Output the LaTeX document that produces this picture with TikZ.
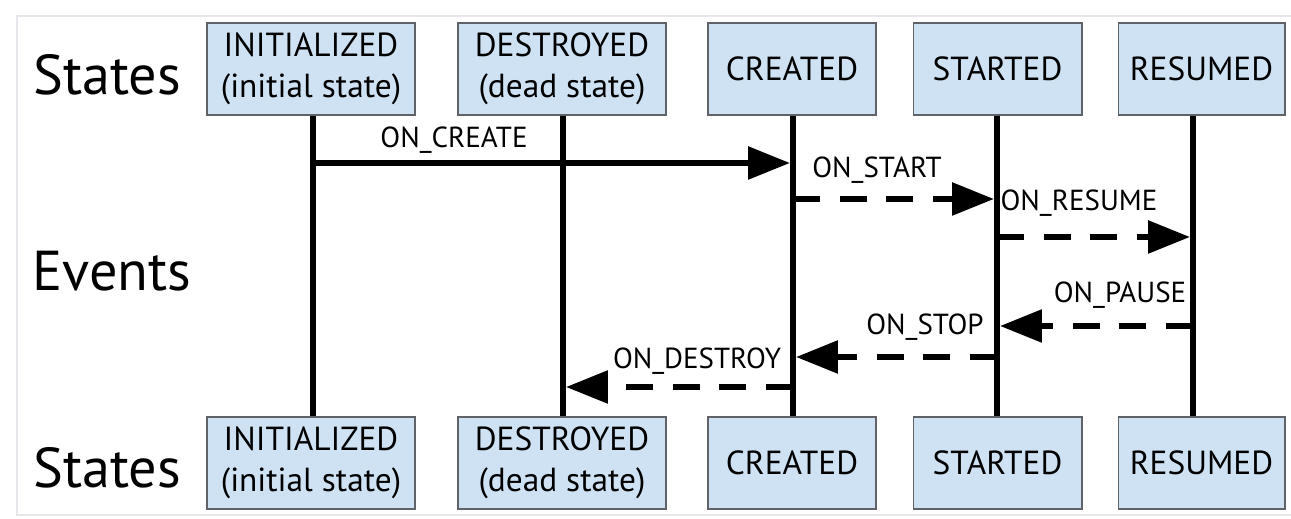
\documentclass[tikz,border=0pt]{standalone}
\usepackage{fontspec}
\setmainfont{PT Sans}
\usepackage{xcolor}
\usetikzlibrary{arrows.meta}

\definecolor{boxblue}{HTML}{CFE2F3}
\definecolor{boxline}{HTML}{5F6368}
\definecolor{framegray}{HTML}{E6E6EB}

\begin{document}
\begin{tikzpicture}[x=0.02cm,y=-0.02cm,
  state/.style={draw=boxline,line width=0.6pt,fill=boxblue,minimum height=1.84cm,
    align=center,inner sep=0pt,font=\fontsize{19}{23.5}\selectfont},
  life/.style={line width=3.4pt},
  event/.style={line width=3.4pt,shorten >=1.7pt,
    -{Triangle[length=23.8pt,width=18.1pt]}},
  lazy/.style={event,dash pattern=on 15.3pt off 11.3pt},
  tag/.style={inner sep=0pt,font=\fontsize{16.5}{18}\selectfont},
  side/.style={inner sep=0pt,font=\fontsize{32}{35}\selectfont}]
\useasboundingbox (0,0) rectangle (1291,519);
\draw[framegray,line width=1.2pt] (17,16) rectangle (1310,515);

% row labels
\node[side] (statesT) at (107,75) {States};
\node[side] (events) at (112,271) {Events};
\node[side] (statesB) at (107,468) {States};

% state boxes, top and bottom rows
\foreach \row/\y in {T/69,B/463}{
  \node[state,minimum width=4.16cm] (ini\row) at (311,\y) {INITIALIZED\\(initial state)};
  \node[state,minimum width=4.16cm] (des\row) at (562,\y) {DESTROYED\\(dead state)};
  \node[state,minimum width=3.36cm] (cre\row) at (792,\y) {CREATED};
  \node[state,minimum width=3.38cm] (sta\row) at (997.5,\y) {STARTED};
  \node[state,minimum width=3.34cm] (res\row) at (1201.5,\y) {RESUMED};
}

% lifelines
\coordinate (lI) at (313,0);
\coordinate (lD) at (563,0);
\coordinate (lC) at (793,0);
\coordinate (lS) at (997,0);
\coordinate (lR) at (1193,0);
\draw[life] (lI |- iniT.south) -- (lI |- iniB.north);
\draw[life] (lD |- desT.south) -- (lD |- desB.north);
\draw[life] (lC |- creT.south) -- (lC |- creB.north);
\draw[life] (lS |- staT.south) -- (lS |- staB.north);
\draw[life] (lR |- resT.south) -- (lR |- resB.north);

% events
\draw[event] (lI |- 0,163) -- (lC |- 0,163);
\node[tag] (onCreate) at (454,140) {ON\_CREATE};
\draw[lazy] (lC |- 0,199) -- (lS |- 0,199);
\node[tag] (onStart) at (877,170) {ON\_START};
\draw[lazy] (lS |- 0,237) -- (lR |- 0,237);
\node[tag] (onResume) at (1079,203) {ON\_RESUME};
\draw[lazy] (lR |- 0,326) -- (lS |- 0,326);
\node[tag] (onPause) at (1120,295) {ON\_PAUSE};
\draw[lazy] (lS |- 0,357) -- (lC |- 0,357);
\node[tag] (onStop) at (925,327) {ON\_STOP};
\draw[lazy] (lC |- 0,387) -- (lD |- 0,387);
\node[tag] (onDestroy) at (697,361) {ON\_DESTROY};
\end{tikzpicture}
\end{document}
